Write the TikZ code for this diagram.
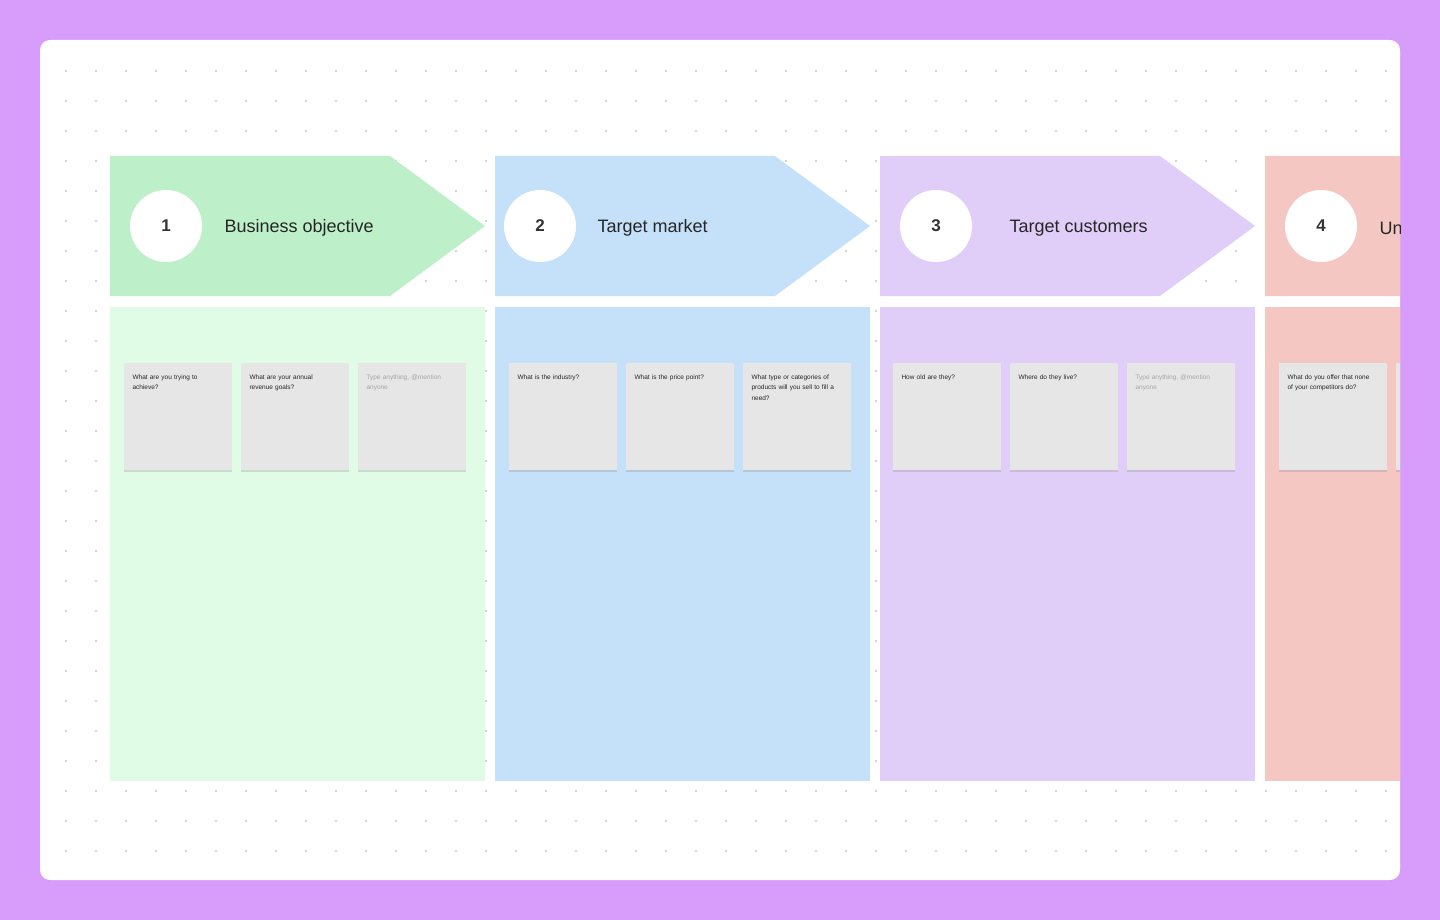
\documentclass[tikz,border=0pt]{standalone}
\usepackage{fontspec}
\setmainfont{Liberation Sans}
\usetikzlibrary{shadows}
\definecolor{bgp}{HTML}{D89CFA}
\definecolor{gA}{HTML}{BDF0C9}\definecolor{gB}{HTML}{E0FBE6}
\definecolor{bA}{HTML}{C4E1F9}
\definecolor{pA}{HTML}{E0CEF9}
\definecolor{rA}{HTML}{F4C7C3}
\definecolor{note}{HTML}{E6E6E6}
\definecolor{dotc}{HTML}{C8C8C8}
\tikzset{
 notebox/.style={fill=note, minimum width=108pt, minimum height=107pt, draw=none, anchor=north west,
   drop shadow={shadow xshift=0pt, shadow yshift=-1.5pt, opacity=0.25}},
 notetxt/.style={anchor=north west, font=\fontsize{6.5}{10.5}\selectfont, text width=86pt, align=left, text=black!85,
   execute at begin node={\hyphenpenalty=10000\relax}},
 hint/.style={notetxt, text=black!35},
 num/.style={circle, fill=white, minimum size=72pt, font=\fontsize{17}{20}\selectfont\bfseries, text=black!80},
 title/.style={anchor=west, font=\fontsize{18}{20}\selectfont, text=black!85},
}
\begin{document}
\begin{tikzpicture}[x=1pt,y=-1pt]
\useasboundingbox (0,0) rectangle (1440,920);
\fill[bgp] (0,0) rectangle (1440,920);
\fill[white, rounded corners=10pt] (40,40) rectangle (1400,880);
\foreach \i in {0,...,44}{\foreach \j in {0,...,26}{
  \fill[dotc] (66+30*\i,71+30*\j) circle (1.1pt);}}
\begin{scope}
\clip (40,40) rectangle (1400,880);
\foreach \x/\ca/\cb in {110/gA/gB,495/bA/bA,880/pA/pA,1265/rA/rA}{
  \fill[\ca] (\x,156) -- (\x+280,156) -- (\x+375,226) -- (\x+280,296) -- (\x,296) -- cycle;
  \fill[\cb] (\x,307) rectangle (\x+375,781);
}
\node[num] (c1) at (166,226) {1};
\node[num] (c2) at (540,226) {2};
\node[num] (c3) at (936,226) {3};
\node[num] (c4) at (1321,226) {4};
\node[title] (t1) at (221,228) {Business objective};
\node[title] (t2) at (594,228) {Target market};
\node[title] (t3) at (1006,228) {Target customers};
\node[title] (t4) at (1376,228) {Un};
\node[notebox] (n11) at (124,363) {};
\node[notebox] (n12) at (241,363) {};
\node[notebox] (n13) at (358,363) {};
\node[notebox] (n21) at (509,363) {};
\node[notebox] (n22) at (626,363) {};
\node[notebox] (n23) at (743,363) {};
\node[notebox] (n31) at (893,363) {};
\node[notebox] (n32) at (1010,363) {};
\node[notebox] (n33) at (1127,363) {};
\node[notebox] (n41) at (1279,363) {};
\node[notebox] (n42) at (1396,363) {};
\node[notetxt] at ([shift={(5pt,-8pt)}]n11.north west) {What are you trying to achieve?};
\node[notetxt] at ([shift={(5pt,-8pt)}]n12.north west) {What are your annual revenue goals?};
\node[hint] at ([shift={(5pt,-8pt)}]n13.north west) {Type anything, @mention anyone};
\node[notetxt] at ([shift={(5pt,-8pt)}]n21.north west) {What is the industry?};
\node[notetxt] at ([shift={(5pt,-8pt)}]n22.north west) {What is the price point?};
\node[notetxt] at ([shift={(5pt,-8pt)}]n23.north west) {What type or categories of products will you sell to fill a need?};
\node[notetxt] at ([shift={(5pt,-8pt)}]n31.north west) {How old are they?};
\node[notetxt] at ([shift={(5pt,-8pt)}]n32.north west) {Where do they live?};
\node[hint] at ([shift={(5pt,-8pt)}]n33.north west) {Type anything, @mention anyone};
\node[notetxt] at ([shift={(5pt,-8pt)}]n41.north west) {What do you offer that none of your competitors do?};
\end{scope}
\end{tikzpicture}
\end{document}
